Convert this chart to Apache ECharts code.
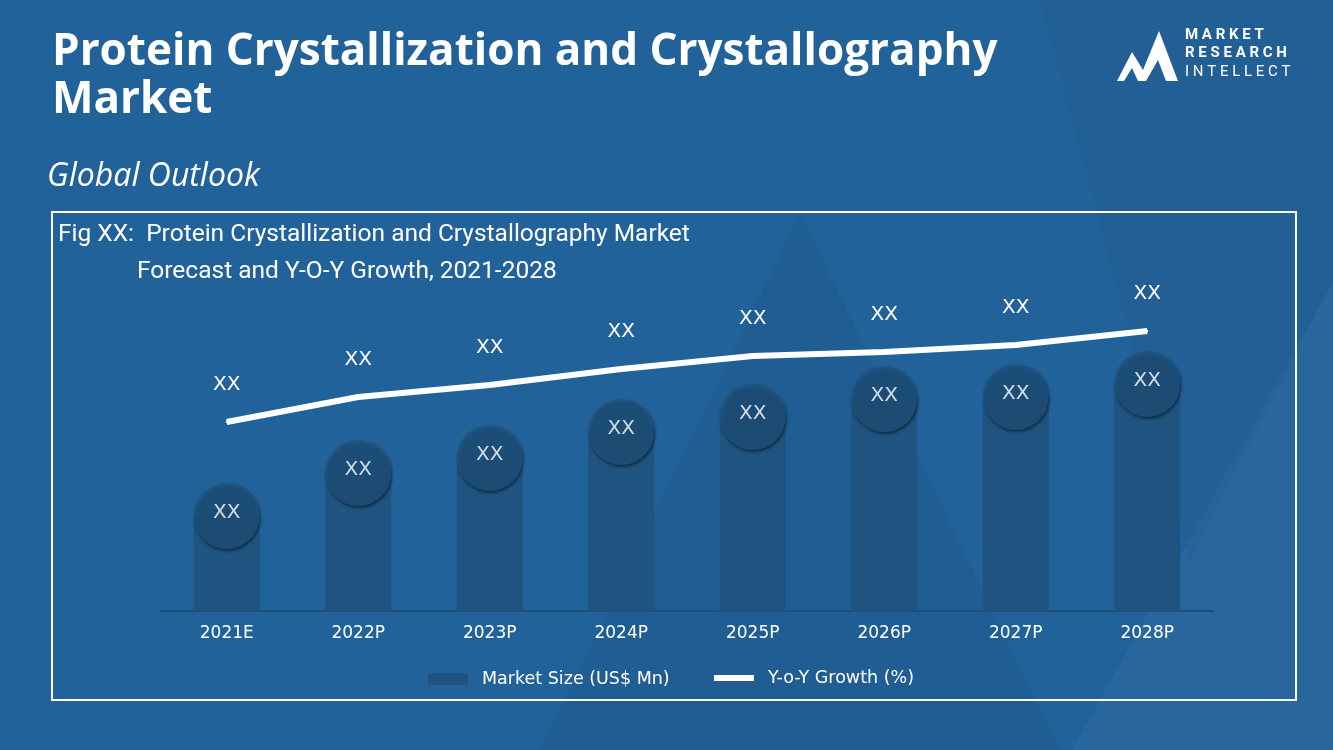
<!DOCTYPE html>
<html>
<head>
<meta charset="utf-8">
<script src="https://cdn.jsdelivr.net/npm/echarts@6/dist/echarts.min.js"></script>
<style>
html,body{margin:0;padding:0;background:#22629a;}
#c{width:1333px;height:750px;}
</style>
</head>
<body>
<div id="c"></div>
<script>
// ---- data ----
const categories = ['2021E','2022P','2023P','2024P','2025P','2026P','2027P','2028P'];
const marketSize = [95, 138, 153, 179, 194, 212, 214, 227];
const yoyGrowth = [189, 214, 226, 242, 255, 259, 266, 280];
const barLabels = ['XX','XX','XX','XX','XX','XX','XX','XX'];
const lineLabels = ['XX','XX','XX','XX','XX','XX','XX','XX'];
const seriesNames = ['Market Size (US$ Mn)', 'Y-o-Y Growth (%)'];

const BG = '#22629a';
const BAR = '#1f5480';
const FONT = 'Roboto, "Open Sans", sans-serif';
const WIDE = '"DejaVu Sans", sans-serif';

const chart = echarts.init(document.getElementById('c'), null, {renderer:'canvas'});

const option = {
  backgroundColor: BG,
  animation: false,
  title: [
    {text: 'Protein Crystallization and Crystallography\nMarket', left: 47, top: 23,
     textStyle: {color:'#fff', fontSize: 44, fontWeight: 'bold', fontFamily: '"Open Sans", sans-serif', lineHeight: 48}},
    {text: 'Global Outlook', left: 42, top: 156,
     textStyle: {color:'#fff', fontSize: 32, fontWeight: 'normal', fontStyle: 'italic', fontFamily: '"Open Sans", sans-serif'}},
    {text: 'Fig XX:  Protein Crystallization and Crystallography Market', left: 53, top: 217,
     textStyle: {color:'#fff', fontSize: 24.5, fontWeight: 'normal', fontFamily: FONT}},
    {text: 'Forecast and Y-O-Y Growth, 2021-2028', left: 132, top: 254,
     textStyle: {color:'#fff', fontSize: 24.5, fontWeight: 'normal', fontFamily: FONT}}
  ],
  graphic: [
    {type:'polygon', z:-10, shape:{points:[[800,213],[540,750],[1060,750]]}, style:{fill:'rgba(20,60,100,0.12)'}},
    {type:'polygon', z:-10, shape:{points:[[1333,282],[1333,750],[1072,750]]}, style:{fill:'rgba(255,255,255,0.03)'}},
    {type:'polygon', z:-10, shape:{points:[[1040,0],[1333,0],[1333,282],[1190,560]]}, style:{fill:'rgba(20,60,100,0.08)'}},
    {type:'rect', shape:{x:52, y:212, width:1244, height:488}, style:{fill:'none', stroke:'#fff', lineWidth:2}},
    // logo
    {type:'polygon', shape:{points:[[1117,81],[1132,52],[1143,70],[1159,31],[1178,81],[1166,81],[1158,60],[1146,81],[1138,81],[1132,68],[1124,81]]}, style:{fill:'#fff'}},
    {type:'text', left:1185, top:28, style:{text:'M A R K E T', fill:'#fff', font:'bold 15px Roboto, sans-serif'}},
    {type:'text', left:1185, top:46, style:{text:'R E S E A R C H', fill:'#fff', font:'bold 15px Roboto, sans-serif'}},
    {type:'text', left:1185, top:65, style:{text:'I N T E L L E C T', fill:'#fff', font:'15px Roboto, sans-serif'}}
  ],
  legend: [
    {left: 428, top: 670, padding: 0, itemWidth: 40, itemHeight: 12,
     data: [{name: seriesNames[0], icon: 'rect'}],
     textStyle: {color:'#fff', fontSize: 17.5, fontFamily: WIDE, padding:[0,0,0,9]}},
    {left: 714, top: 669, padding: 0, itemWidth: 40, itemHeight: 6,
     data: [{name: seriesNames[1], icon: 'rect', itemStyle:{color:'#fff', opacity:1}}],
     textStyle: {color:'#fff', fontSize: 17.5, fontFamily: WIDE, padding:[0,0,0,9]}}
  ],
  grid: {left: 161, right: 120, top: 311, bottom: 139},
  xAxis: {
    type: 'category', data: categories,
    axisLine: {show: true, lineStyle: {color: '#1d4f7a', width: 2}},
    axisTick: {show: false},
    axisLabel: {color:'#fff', fontSize: 17, fontFamily: WIDE, margin: 14}
  },
  yAxis: [
    {type:'value', min:0, max:300, show:false, splitLine:{show:false}},
    {type:'value', min:0, max:300, show:false, splitLine:{show:false}}
  ],
  series: [
    {name: seriesNames[0], type:'bar', data: marketSize, barWidth: 66,
     itemStyle:{color: BAR}, z: 2},
    {name: 'cap', type:'scatter', data: marketSize, symbolSize: 66, symbol:'circle',
     itemStyle:{color: BAR, shadowColor:'rgba(0,0,0,0.6)', shadowBlur:3, shadowOffsetY:2, shadowOffsetX:1},
     label:{show:true, position:'inside', formatter:(p)=>barLabels[p.dataIndex], color:'#fff', fontSize:20, fontFamily: WIDE, offset:[0,-3]},
     z: 3},
    {name: seriesNames[1], type:'line', yAxisIndex:1, data: yoyGrowth, showSymbol:true, symbol:'circle', symbolSize:2,
     lineStyle:{color:'#fff', width:6, cap:'butt'}, itemStyle:{color:'#fff'},
     label:{show:true, position:'top', distance:26, formatter:(p)=>lineLabels[p.dataIndex], color:'#fff', fontSize:20, fontFamily: WIDE},
     labelLayout:{hideOverlap:false},
     z: 4}
  ]
};
chart.setOption(option);
</script>
</body>
</html>
